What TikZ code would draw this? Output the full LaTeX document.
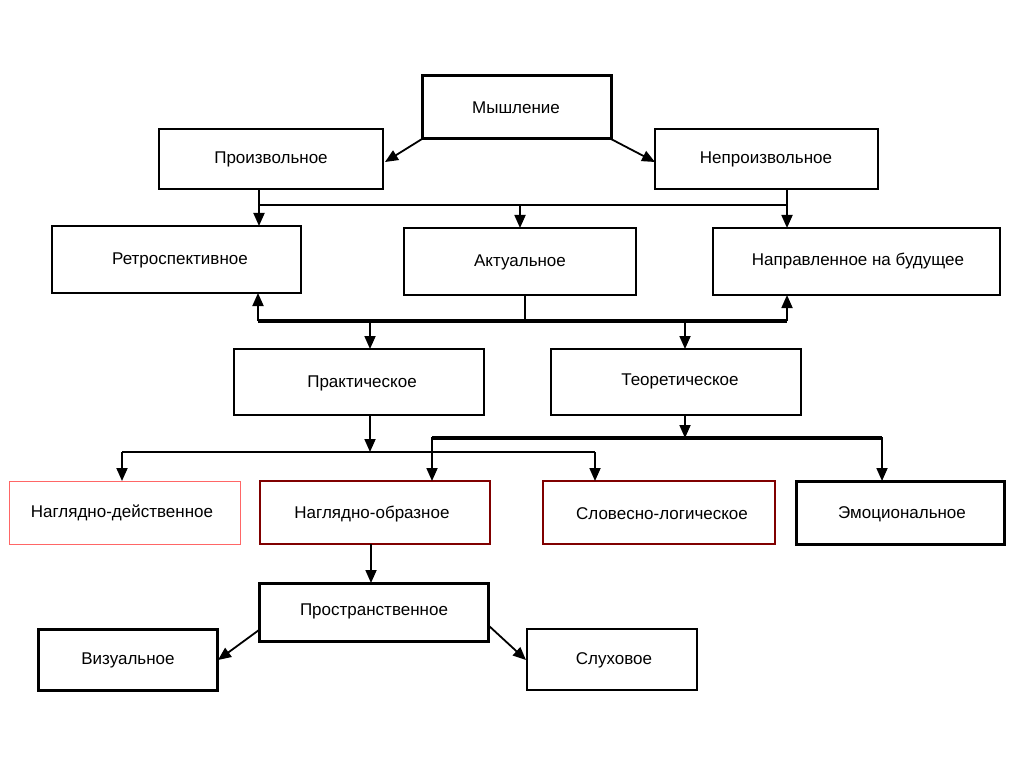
\documentclass[tikz,border=0pt]{standalone}
\usepackage{fontspec}
\setmainfont{Liberation Sans}
\usetikzlibrary{arrows.meta}
\begin{document}
\begin{tikzpicture}[x=1pt,y=-1pt,
  bx/.style={draw,line width=1.5pt,fill=white},
  tk/.style={draw,line width=3pt},
  rd/.style={draw=red!50!black,line width=2.8pt},
  rt/.style={draw=red!60,line width=0.8pt},
  lbl/.style={font=\fontsize{17}{19}\selectfont},
  ar/.style={-{Triangle[length=13pt,width=11pt]},line width=1.8pt},
  ln/.style={line width=1.8pt}]
\useasboundingbox (0,0) rectangle (1024,767);
\draw[tk] (422,76) rectangle (611,139); \node[lbl] (m) at (516,108) {Мышление};
\draw[bx] (159,129) rectangle (383,189); \node[lbl] (pr) at (271,159) {Произвольное};
\draw[bx] (655,129) rectangle (878,189); \node[lbl] (np) at (766,159) {Непроизвольное};
\draw[bx] (52,226) rectangle (301,293); \node[lbl] (re) at (180,260) {Ретроспективное};
\draw[bx] (404,228) rectangle (636,295); \node[lbl] (ak) at (520,262) {Актуальное};
\draw[bx] (713,228) rectangle (1000,295); \node[lbl] (na) at (858,261) {Направленное на будущее};
\draw[bx] (234,349) rectangle (484,415); \node[lbl] (pk) at (362,383) {Практическое};
\draw[bx] (551,349) rectangle (801,415); \node[lbl] (te) at (680,381) {Теоретическое};
\draw[rt] (9,481) rectangle (240,544); \node[lbl] (nd) at (122,513) {Наглядно-действенное};
\draw[rd] (260,481) rectangle (490,544); \node[lbl] (no) at (372,514) {Наглядно-образное};
\draw[rd] (543,481) rectangle (775,544); \node[lbl] (sl) at (662,514) {Словесно-логическое};
\draw[tk] (796,481) rectangle (1004,544); \node[lbl] (em) at (902,514) {Эмоциональное};
\draw[tk] (259,583) rectangle (488,641); \node[lbl] (ps) at (374,611) {Пространственное};
\draw[tk] (38,629) rectangle (217,690); \node[lbl] (vi) at (128,660) {Визуальное};
\draw[bx] (527,629) rectangle (697,690); \node[lbl] (sh) at (614,660) {Слуховое};
\coordinate (m1) at (422,139); \coordinate (m2) at (611,139);
\draw[ar] (m1) -- (385,162);
\draw[ar] (m2) -- (655,162);
\draw[ln] (259,189) -- (259,205) -- (787,205) -- (787,189);
\draw[ar] (259,205) -- (259,226);
\draw[ar] (520,205) -- (520,228);
\draw[ar] (787,205) -- (787,228);
\draw[ln] (525,295) -- (525,321);
\draw[line width=3.5pt] (258,321) -- (787,321);
\draw[ar] (258,321) -- (258,293);
\draw[ar] (787,321) -- (787,295);
\draw[ar] (370,321) -- (370,349);
\draw[ar] (685,321) -- (685,349);
\draw[ar] (370,415) -- (370,452);
\draw[ln] (122,452) -- (595,452);
\draw[ar] (122,452) -- (122,481);
\draw[ar] (595,452) -- (595,481);
\draw[ar] (685,415) -- (685,438);
\draw[line width=3.5pt] (432,438) -- (882,438);
\draw[ar] (432,437) -- (432,481);
\draw[ar] (882,437) -- (882,481);
\draw[ar] (371,544) -- (371,583);
\draw[ar] (259,630) -- (218,660);
\draw[ar] (488,625) -- (526,660);
\end{tikzpicture}
\end{document}
